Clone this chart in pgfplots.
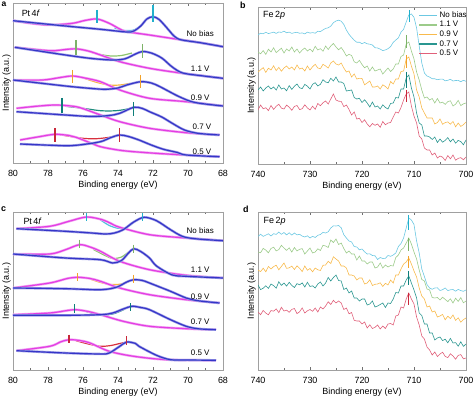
\documentclass[border=0pt]{standalone}
\usepackage{fontspec}
\setmainfont{Liberation Sans}
\usepackage{pgfplots}
\usepackage{pgfplotstable}
\pgfplotsset{compat=1.18}

\definecolor{frm}{HTML}{A0A0A0}
\definecolor{mag}{HTML}{E33DE3}
\definecolor{magL}{HTML}{F2A6F2}
\definecolor{blu}{HTML}{3535C8}
\definecolor{bluL}{HTML}{A0A0E6}
\definecolor{eNB}{HTML}{4FC3DD}
\definecolor{eG}{HTML}{8DC46E}
\definecolor{eO}{HTML}{F7B541}
\definecolor{eT}{HTML}{1E8C7C}
\definecolor{eR}{HTML}{D8303E}
\definecolor{mNB}{HTML}{22B0CC}
\definecolor{mG}{HTML}{7DB368}
\definecolor{mO}{HTML}{F2A22A}
\definecolor{mT}{HTML}{0E7E7A}
\definecolor{mR}{HTML}{C8283A}
\definecolor{fNB}{HTML}{6CC8E2}
\definecolor{fG}{HTML}{9CCB8A}
\definecolor{fO}{HTML}{F8BA4C}
\definecolor{fT}{HTML}{2A9690}
\definecolor{fR}{HTML}{E0607A}

\pgfplotstableread{
x c g o t r
740 34.9 52 72 90 110
739.5 33.2 53.8 69.8 87 105
739 33.8 50.6 67.6 91 108.8
738.5 32.3 54.4 72.4 88 107.7
738 33.6 49.2 68.2 86 110.6
737.5 32.9 52 70 89 105.5
737 32.1 47.8 65.8 87 109.4
736.5 33.4 52.6 70.6 90 106.3
736 32 50.4 67.4 85 104.2
735.5 32.4 48.2 71.2 89 108.1
735 31.1 53 68 88 109
734.5 32.8 49 66 90.8 105.1
734 32.1 51 69 85.6 107.2
733.5 33.4 47 67 89.4 110.3
733 32.7 52 70 86.2 106.4
732.5 32.3 49 65 84 105.5
732 33.3 53 69 87.8 109.6
731.5 32.9 50 68 88.6 108.7
731 33.9 48 71 84.4 104.8
730.5 32.1 51 66 86.2 107.9
730 33.1 49 70 89 110
729.5 32.6 51.7 66.7 84.3 106.2
729 33.2 46.3 64.3 82.7 109.3
728.5 31.2 50 68 86 103.5
728 31.6 48.7 68.7 84.3 105.7
727.5 29.9 51.3 64.3 79.7 102.8
727 28.4 46 66 82 101
726.5 27.8 49.5 68 82.7 104
726 26.1 46 63 78.3 99
725.5 22.7 43.5 61 81 94
725 21 47 64 77 100
724.5 20.2 49.8 65 82 101.2
724 21.2 47.5 63 82 101.4
723.5 24.4 51.3 68 83.5 106.6
723 30.1 56 72 91 105
722.5 34.3 54.3 71 90.5 109.5
722 37.4 55.5 77 90 115
721.5 40.2 61.8 74 97.5 112
721 42.3 63 79 99 119
720.5 42.2 60.3 78.3 98.3 118.3
720 43.7 64.5 78.5 102.5 122.5
719.5 42.5 67.8 84.8 99.8 119.8
719 43.8 66 83 103 124
718.5 44.2 71 81 107 126.8
718 45 67 87 102 123.5
717.5 47.7 71 87 107 125.3
717 48 70 86 106 124
716.5 49.1 69 89 109 127.3
716 50.6 74 84.8 104.8 121.5
715.5 49.9 71 86.5 107.5 124.8
715 48.7 68 89 109 123
714.5 46.6 71.5 81.5 103.5 122.5
714 42.4 69 84 103 117
713.5 40 64 79 97.5 112
713 37.9 64 79 98 113
712.5 32.1 56.5 71.5 89 107.5
712 29.3 55 71 89 100
711.5 22 44 59 78 94
711 15 42 57 75 92
710.5 14 51 66 88 106
710 17.3 59 74 97 116
709.5 28 72 90 113 123
709 46 80 97 123 136
708.5 63 90 108 125 139
708 73 98 113 136 148
707.5 76 97 118 136 150
707 77.1 100 118 137 150
706.5 78.7 98.5 118 139.5 155
706 78.8 103 124 137 153
705.5 79.7 98.5 122.5 142.5 158
705 79.2 103 119 139 156
704.5 79.1 102.2 124.3 142.2 157.2
704 80.8 104.4 122.6 140.4 160.4
703.5 80.3 101.6 121.9 137.6 155.6
703 79.3 100.8 124.2 141.8 158.8
702.5 81 106 121.5 139 155
702 80.5 104.2 126.8 143.2 160.2
701.5 80.4 100.4 123.1 140.4 158.4
701 81.7 105.6 126.4 141.6 157.6
700.5 80.3 103.8 124.7 144.8 159.8
700 81.3 103 122 140 157
}\feb

\pgfplotstableread{
x c g o t r
740 38.5 54 72 87 114
739.5 36.2 54.7 73.6 91.6 116.7
739 38.4 50.4 70.2 90.2 112.4
738.5 37.1 52.1 73.8 87.8 115.1
738 35.8 54.8 68.4 90.4 116.8
737.5 38 50.5 71 86 112.5
737 35.7 49.2 68.6 87.6 113.2
736.5 36.4 52.9 67.2 90.2 110.9
736 34.1 51.6 71.8 83.8 114.6
735.5 36.3 47.3 68.4 87.4 109.3
735 34.5 50 65 85 113
734.5 36.9 52.4 70.4 88.1 112.1
734 34.8 49.8 69.8 84.3 114.3
733.5 37.1 54.1 68.1 87.4 111.4
733 35 49.5 71.5 89.5 110.5
732.5 36.9 52.9 67.9 85.6 115.6
732 36.3 51.3 70.3 86.8 113.8
731.5 38.1 50.6 73.6 84.9 109.9
731 39 56 68 89 115
730.5 37.8 53 72.3 84.3 112.8
730 40 50 70.5 88.5 111.5
729.5 38.3 55 73.8 87.8 113.3
729 39.5 54 70 90 110
728.5 37.3 50.8 71.8 86 114
728 36.5 52.5 72.5 84 109
727.5 34.3 47.3 67.3 88 111
727 35 48 67 85 108
726.5 33.8 49.5 63.3 79.5 103.8
726 30 42 65.5 83 106.5
725.5 27.8 44.5 58.8 79.5 102.3
725 28 41 61 77 105
724.5 27.5 46.5 63 82.5 103
724 29.8 45 68 83 105
723.5 36.7 50.5 68 91.5 111.5
723 40 55 70 90 110
722.5 43 53 77 95 115.8
722 44 56 77 93 114.5
721.5 48.5 56 78 100 122.3
721 49 62 82 100 123
720.5 51.8 58 80 103 123
720 51 63 80 101 126
719.5 53.8 63 86 101 124
719 56 66 85 107 130
718.5 55.8 64 81.8 106 126.8
718 57.5 64 87.5 103 130.5
717.5 57.8 70 86.3 109 129.3
717 61.5 69 86 108 127
716.5 59.5 65 84.8 106.5 131
716 60.5 70 88.5 105 128
715.5 60.3 67 85.3 109.5 130.5
715 57.5 69 87 105 126
714.5 58.3 67.5 82 105.5 125.5
714 57 68 85 101 127
713.5 55 59.5 77 94.5 118
713 48.5 57 77 95 117
712.5 45.5 52 71 88 109
712 40 50 66 88 110
711.5 30 45 64 82 101
711 20 40 60 78 95
710.5 22 46 66 85 101
710 26.5 54 73 92 106
709.5 43 61 79 100 119
709 55 72 90 115 127
708.5 71 81.5 98 117.5 138
708 78.5 83 101 126 141
707.5 86.5 91 109 126 149
707 90 92 108 135 152
706.5 91.3 99.5 114 135 157
706 90 100 113 142 154
705.5 89.8 99.5 119 140 158.5
705 92.5 102 118 139 156
704.5 91.7 99.2 116.4 142.6 154.2
704 89.9 101.4 121.8 141.2 158.4
703.5 92.6 103.6 118.2 144.8 159.6
703 91.8 100.8 120.6 140.4 155.8
702.5 91.5 105 117 145 158
702 93.2 100.2 122.4 144.6 161.2
701.5 91.4 103.4 119.8 148.2 157.4
701 92.6 99.6 124.2 143.8 156.6
700.5 93.3 104.8 121.6 148.4 160.8
700 92 103 120 146 160
}\fed

\pgfplotsset{
  base/.style={scale only axis, axis line style={frm}, tick style={frm!70!black, line width=0.4pt},
    major tick length=3pt, minor tick length=1.8pt, ytick=\empty, y dir=reverse, x dir=reverse,
    ticklabel style={font=\fontsize{9}{11}\selectfont},
    xticklabel style={yshift=-3.5pt},
    /pgf/number format/assume math mode=true,
    xlabel={Binding energy (eV)},
    xlabel style={font=\fontsize{9}{11}\selectfont, yshift=2pt},
    ylabel={Intensity (a.u.)},
    every axis y label/.style={at={(axis description cs:0,0.5)}, rotate=90, anchor=south, inner sep=2pt, font=\fontsize{9}{11}\selectfont}},
  pt/.style={base, xmin=68, xmax=80, xtick={68,70,...,80}, minor x tick num=1, width=210bp},
  fe/.style={base, xmin=700, xmax=740, xtick={700,710,...,740}, minor x tick num=1, width=208bp},
  mg/.style={mag, line width=1.2pt, smooth, preaction={draw=magL, line width=2.5pt}},
  bl/.style={blu, line width=1.2pt, smooth, preaction={draw=bluL, line width=2.5pt}},
  en/.style={line width=1.2pt, smooth},
  mk/.style={line width=1.3pt, forget plot},
  fl/.style={line width=0.6pt},
}
\tikzset{lab/.style={font=\fontsize{8}{9}\selectfont}}

\begin{document}
\begin{tikzpicture}
\path[use as bounding box] (0,0) rectangle (474bp,398bp);

% ---------------- panel a ----------------
\begin{axis}[pt, at={(13bp,235bp)}, anchor=south west, height=160bp, ymin=3, ymax=163]
% No bias
\addplot[en, eNB] coordinates {(74.2,28) (73.6,30.5) (73.1,30) (72.7,26)};
\addplot[mg] coordinates {(80,20.7) (78.9,23.5) (77.9,25) (76.6,23.3) (75.9,20.5) (75.2,19) (74.5,23.3) (73.9,29) (73.5,31.7) (72.2,35) (70.7,39) (69.3,42.7) (68,46.7)};
\addplot[bl] coordinates {(80,20.7) (77,26) (75,29.3) (73.5,32) (73.1,31) (72.7,26) (72.35,19) (72,16.7) (71.65,19.5) (71.2,28) (70.8,36) (70.4,39.8) (69.3,42.7) (68,46.7)};
\addplot[mk, mNB] coordinates {(75.2,10) (75.2,23)};
\addplot[mk, mNB] coordinates {(72,5) (72,22)};
% 1.1 V
\addplot[en, eG] coordinates {(75.6,52) (75,54.5) (74.4,56) (73.8,55.5) (73.2,53)};
\addplot[mg] coordinates {(79.9,47.3) (77.9,50.7) (77,49.5) (76.4,48.8) (75.7,51) (75,55) (73.9,61.7) (72.2,68.3) (70.3,73.3) (68,78.3)};
\addplot[bl] coordinates {(79.9,47.3) (77,55) (75.5,58.5) (74.3,60) (73.6,58.8) (73,54) (72.6,51.5) (72.1,53) (71.5,58) (70.9,67) (70.3,73) (69.2,75.8) (68,78.3)};
\addplot[mk, mG] coordinates {(76.4,40) (76.4,55)};
\addplot[mk, mG] coordinates {(72.6,44) (72.6,58)};
% 0.9 V
\addplot[en, eO] coordinates {(75.9,78.5) (75.2,82.5) (74.5,85) (73.9,85) (73.3,83.3)};
\addplot[mg] coordinates {(80,80) (78.3,80) (77.3,77.5) (76.6,76) (75.9,78) (75,81.7) (73.9,90) (72.2,98.3) (70.1,101.7) (68,106)};
\addplot[bl] coordinates {(80,80) (77,86) (75.5,88.5) (74.7,89.3) (74,88) (73.5,85) (72.7,81.7) (72.1,83) (71.6,86.7) (70.5,96.7) (69.6,102.5) (68,106)};
\addplot[mk, mO] coordinates {(76.6,70) (76.6,83)};
\addplot[mk, mO] coordinates {(72.7,75) (72.7,88)};
% 0.7 V
\addplot[en, eT] coordinates {(77,106.3) (76,108.3) (75,110.7) (74.2,110.8) (73.6,109.5) (73.1,107.3)};
\addplot[mg] coordinates {(79.8,108.3) (78.5,106) (77.5,105) (76.4,106.7) (75.7,110.5) (75,115) (73.9,121.7) (72.2,128.3) (70.1,132.7) (68.2,135)};
\addplot[bl] coordinates {(79.8,111.7) (77,115) (75.5,116.5) (74.5,115.5) (73.9,113.3) (73.1,107.3) (72.6,108.5) (72.2,111.7) (71.5,117) (70.9,123.3) (70.2,130) (69.4,133.4) (68.2,135)};
\addplot[mk, mT] coordinates {(77.2,98) (77.2,113)};
\addplot[mk, mT] coordinates {(73.1,102) (73.1,116)};
% 0.5 V
\addplot[en, eR] coordinates {(77.3,134.8) (76.6,136.8) (76,138.3) (75.3,138.8) (74.5,137.3) (73.9,135)};
\addplot[mg] coordinates {(79.6,140) (78.5,136.7) (77.6,134.3) (76.8,135.5) (76.4,137.3) (75.7,142) (75,146.7) (74,150) (73.1,151.7) (71.2,154) (68.2,156.7)};
\addplot[bl] coordinates {(79.6,144) (77,145.7) (76,144.5) (75,141.7) (74.4,137.5) (73.9,135) (73.4,136.5) (72.8,140) (72.1,145) (71.4,149.3) (70.6,152.5) (70.1,155) (68.2,156.7)};
\addplot[mk, mR] coordinates {(77.6,128) (77.6,142)};
\addplot[mk, mR] coordinates {(73.9,128) (73.9,142)};
\node[anchor=west, font=\fontsize{9}{10}\selectfont] at (axis cs:79.7,13) {Pt\,4\textit{f}};
\node[lab] at (axis cs:69.3,34) {No bias};
\node[lab] at (axis cs:69.3,69) {1.1 V};
\node[lab] at (axis cs:69.3,98) {0.9 V};
\node[lab] at (axis cs:69.2,127) {0.7 V};
\node[lab] at (axis cs:69.2,152) {0.5 V};
\end{axis}

% ---------------- panel b ----------------
\begin{axis}[fe, at={(258bp,234bp)}, anchor=south west, height=157bp, ymin=7, ymax=164,
  legend style={at={(0.765,0.99)}, anchor=north west, draw=none, fill=none, font=\fontsize{8}{9}\selectfont,
    row sep=-1.5pt, inner sep=1pt},
  legend cell align=left,
  legend image code/.code={\draw[#1, line width=1.4pt] (0bp,0bp) -- (18bp,0bp);}]
\addplot[fl, fNB] table[x=x, y=c] {\feb}; \addlegendentry{No bias}
\addplot[fl, fG] table[x=x, y=g] {\feb}; \addlegendentry{1.1 V}
\addplot[fl, fO] table[x=x, y=o] {\feb}; \addlegendentry{0.9 V}
\addplot[fl, fT] table[x=x, y=t] {\feb}; \addlegendentry{0.7 V}
\addplot[fl, fR] table[x=x, y=r] {\feb}; \addlegendentry{0.5 V}
\addplot[mk, mNB] coordinates {(710.8,10) (710.8,22)};
\addplot[mk, mG] coordinates {(711.5,35) (711.5,48)};
\addplot[mk, mO] coordinates {(711.5,55) (711.5,68)};
\addplot[mk, mT] coordinates {(711.5,72) (711.5,88)};
\addplot[mk, mR] coordinates {(711.5,90) (711.5,102)};
\node[anchor=west, font=\fontsize{9}{10}\selectfont] at (axis cs:739.7,15) {Fe\,2\textit{p}};
\end{axis}

% ---------------- panel c ----------------
\begin{axis}[pt, at={(13bp,28bp)}, anchor=south west, height=158bp, ymin=14, ymax=172]
% No bias
\addplot[en, eNB] coordinates {(75,22) (74.5,27.5) (74,30.3) (73.6,30) (73.2,26)};
\addplot[mg] coordinates {(79.8,30.7) (77.9,28.3) (76.8,23.3) (75.8,19) (74.9,21.7) (74.4,25.5) (73.9,29.3) (72.2,36.7) (70.1,40) (68,42.7)};
\addplot[bl] coordinates {(79.8,30.7) (77,33.3) (75.5,35) (74.7,36) (74.2,35) (73.7,31.7) (73.1,24) (72.5,19.3) (71.8,22.7) (71,31.7) (70.3,38.5) (69.5,40.9) (68,42.7)};
\addplot[mk, mNB] coordinates {(75.8,15) (75.8,23.3)};
\addplot[mk, mNB] coordinates {(72.6,15) (72.6,23.3)};
% 1.1 V
\addplot[en, eG] coordinates {(75.4,51.5) (74.8,57) (74.3,60.5) (73.8,59) (73.4,54)};
\addplot[mg] coordinates {(80,56) (77.9,56) (77,51.7) (76.2,46.7) (75.6,49) (75,53.3) (73.9,63.3) (72.2,71.7) (70.1,77.3) (68,80)};
\addplot[bl] coordinates {(80,56) (77,60) (75,61.7) (74.3,65) (73.8,62.5) (73.4,55) (73.1,50.7) (72.7,53.5) (72.2,60) (71.8,68) (70.9,77) (70.1,78.3) (68,80)};
\addplot[mk, mG] coordinates {(76.2,41.7) (76.2,50)};
\addplot[mk, mG] coordinates {(73.1,46.7) (73.1,55)};
% 0.9 V
\addplot[en, eO] coordinates {(75.6,81) (75,84.5) (74.4,86.5) (73.8,86) (73.3,83)};
\addplot[mg] coordinates {(80,90) (77.9,85) (76.9,80.5) (76.3,79.3) (75.6,80.5) (75,83.3) (73.9,90) (72.2,96.7) (70.1,101.7) (68.2,105)};
\addplot[bl] coordinates {(80,90) (77,90.7) (75,91.7) (74.1,89.3) (73.5,84) (73.1,81.7) (72.6,82.5) (72.2,85) (71,93.3) (70.1,100) (69.4,102.8) (68.2,105)};
\addplot[mk, mO] coordinates {(76.3,75) (76.3,83.3)};
\addplot[mk, mO] coordinates {(73.1,76.7) (73.1,85)};
% 0.7 V
\addplot[en, eT] coordinates {(76,112.5) (75.4,115.5) (74.8,117) (74.2,115.5) (73.6,111)};
\addplot[mg] coordinates {(80,116.7) (77.9,115) (76.9,112.5) (76.4,111.7) (75.7,113.5) (75,116.7) (73.7,123.3) (72.2,128.3) (70.1,130.7) (68.4,131.7)};
\addplot[bl] coordinates {(80,117.3) (77,117.3) (75,116.7) (74.3,115) (73.7,111) (73.2,108.3) (72.7,109.5) (72.2,111.7) (71,121.7) (70.1,128.3) (69.4,130.8) (68.4,131.7)};
\addplot[mk, mT] coordinates {(76.5,106) (76.5,115)};
\addplot[mk, mT] coordinates {(73.3,105) (73.3,113.3)};
% 0.5 V
\addplot[en, eR] coordinates {(76.4,142.7) (75.7,146) (75,148.3) (74.4,147.5) (73.9,145.5) (73.5,144)};
\addplot[mg] coordinates {(79.8,152.7) (77.9,148.3) (77.3,144) (76.8,141.7) (76.2,142.5) (75.6,145) (74.5,153.3) (73.1,158.3) (71.2,161.7) (68.4,162.3)};
\addplot[bl] coordinates {(79.8,152.7) (77,155) (75,156) (74.5,155) (73.9,148.3) (73.5,144) (73,145.5) (72.8,148.3) (71.8,157.3) (71,161.7) (70,162) (68.4,162.3)};
\addplot[mk, mR] coordinates {(76.8,136.7) (76.8,145)};
\addplot[mk, mR] coordinates {(73.5,138) (73.5,146.7)};
\node[anchor=west, font=\fontsize{9}{10}\selectfont] at (axis cs:79.6,23) {Pt\,4\textit{f}};
\node[lab] at (axis cs:69.3,32.3) {No bias};
\node[lab] at (axis cs:69.3,71.7) {1.1 V};
\node[lab] at (axis cs:69.3,98.3) {0.9 V};
\node[lab] at (axis cs:69.3,124) {0.7 V};
\node[lab] at (axis cs:69.3,155) {0.5 V};
\end{axis}

% ---------------- panel d ----------------
\begin{axis}[fe, at={(258bp,28bp)}, anchor=south west, height=158bp, ymin=14, ymax=172]
\addplot[fl, fNB] table[x=x, y=c] {\fed};
\addplot[fl, fG] table[x=x, y=g] {\fed};
\addplot[fl, fO] table[x=x, y=o] {\fed};
\addplot[fl, fT] table[x=x, y=t] {\fed};
\addplot[fl, fR] table[x=x, y=r] {\fed};
\addplot[mk, mNB] coordinates {(711,17) (711,32)};
\addplot[mk, mG] coordinates {(711,40) (711,53)};
\addplot[mk, mO] coordinates {(711,58) (711,70)};
\addplot[mk, mT] coordinates {(711,73) (711,87)};
\addplot[mk, mR] coordinates {(711,95) (711,107)};
\node[anchor=west, font=\fontsize{9}{10}\selectfont] at (axis cs:739.6,23) {Fe\,2\textit{p}};
\end{axis}

% panel letters
\node[anchor=north west, inner sep=0pt, font=\bfseries\fontsize{8.5}{10}\selectfont] at (1.5bp,396bp) {a};
\node[anchor=north west, inner sep=0pt, font=\bfseries\fontsize{9}{10}\selectfont] at (240bp,396bp) {b};
\node[anchor=north west, inner sep=0pt, font=\bfseries\fontsize{9}{10}\selectfont] at (1bp,192bp) {c};
\node[anchor=north west, inner sep=0pt, font=\bfseries\fontsize{9}{10}\selectfont] at (243bp,192bp) {d};
\end{tikzpicture}
\end{document}
